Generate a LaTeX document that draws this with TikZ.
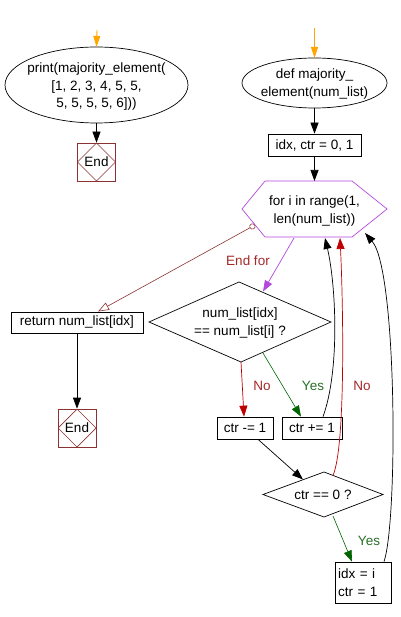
\documentclass[tikz,border=0pt]{standalone}
\usepackage{fontspec}
\setmainfont{Liberation Sans}
\usetikzlibrary{arrows.meta,calc}
\definecolor{purp}{RGB}{178,72,222}
\definecolor{endred}{RGB}{140,50,50}
\definecolor{nored}{RGB}{190,0,0}
\definecolor{labred}{RGB}{165,40,40}
\definecolor{yesgreen}{RGB}{0,100,0}
\definecolor{labgreen}{RGB}{40,110,40}
\definecolor{orng}{RGB}{255,165,0}
\tikzset{
  blk/.style={draw=black, line width=0.7pt, -{Triangle[length=11pt,width=8pt]}},
  start/.style={draw=orng, line width=0.9pt, -{Triangle[length=11pt,width=7pt]}},
  box/.style={draw, rectangle, inner sep=0pt, minimum height=22pt, line width=0.7pt},
  txt/.style={inner sep=0pt, align=center},
  endnode/.style={draw=endred, line width=0.7pt, minimum width=38pt, minimum height=38pt, inner sep=0pt,
    path picture={\draw[endred, line width=0.7pt] (path picture bounding box.north) -- (path picture bounding box.east) -- (path picture bounding box.south) -- (path picture bounding box.west) -- cycle;}},
  lab/.style={inner sep=0pt}
}
\begin{document}
\begin{tikzpicture}[x=1pt,y=-1pt, font=\fontsize{13.5}{17.5}\selectfont]
\useasboundingbox (0,0) rectangle (400,617);
% left column
\coordinate (s1) at (97,30);
\node[txt] (print) at (96.5,87) {print(majority\_element(\\ {[}1, 2, 3, 4, 5, 5,\\ 5, 5, 5, 5, 6{]}))};
\draw[line width=0.7pt] (96.5,85) ellipse [x radius=91.5, y radius=38];
\coordinate (printT) at (96.5,47);
\coordinate (printB) at (96.5,123);
\node[endnode] (end1) at (96.5,162) {End};
\draw[start] (s1) -- (printT);
\draw[blk] (printB) -- (end1.north);

% right column
\coordinate (s2) at (314.5,28);
\node[txt] (def) at (314.5,84) {def majority\_\\ element(num\_list)};
\draw[line width=0.7pt] (314.5,83) ellipse [x radius=72.5, y radius=25];
\coordinate (defT) at (314.5,58);
\coordinate (defB) at (314.5,108);
\draw[start] (s2) -- (defT);
\node[box, minimum width=93pt] (init) at (314.5,145) {idx, ctr = 0, 1};
\draw[blk] (defB) -- (init.north);

% for hexagon
\node[txt] (for) at (314.5,211) {for i in range(1,\\ len(num\_list))};
\draw[purp, line width=0.7pt] (242,209) -- (265,181) -- (352,181) -- (387,209) -- (352,237) -- (265,237) -- cycle;
\coordinate (forT) at (314.5,181);
\draw[blk] (init.south) -- (forT);

% return
\node[box, minimum width=132pt, minimum height=21pt] (ret) at (77,322.5) {return num\_list[idx]};
\node[endnode] (end2) at (77,428) {End};
\draw[blk] (ret.south) -- (end2.north);
\coordinate (exitS) at (255,225);
\draw[endred, line width=0.6pt, {Circle[open,length=6pt,width=6pt]}-{Triangle[open,length=11pt,width=8pt]}] (exitS) -- (98,311.5);
\node[lab, text=labred] (endfor) at (248,261) {End for};

% diamond 1
\node[txt] (d1) at (240,323) {num\_list[idx]\\ == num\_list[i] ?};
\draw[line width=0.7pt] (149,322) -- (239,282) -- (331,322) -- (241,362) -- cycle;
\coordinate (forB1) at (294,238);
\coordinate (d1T) at (263,291.5);
\draw[purp, line width=0.7pt, -{Triangle[length=11pt,width=8pt]}] (forB1) -- (d1T);

% ctr boxes
\node[box, minimum width=56pt] (ctrm) at (245,428) {ctr -= 1};
\node[box, minimum width=60pt] (ctrp) at (312,428) {ctr += 1};
\coordinate (d1B) at (241,362);
\coordinate (d1R) at (263,353);
\draw[nored, line width=0.7pt, -{Triangle[length=11pt,width=8pt]}] (d1B) -- ([xshift=-1pt]ctrm.north);
\node[lab, text=labred] (no1) at (262,386) {No};
\draw[yesgreen, line width=0.6pt, -{Triangle[length=11pt,width=8pt]}] (d1R) -- ([xshift=-11pt]ctrp.north);
\node[lab, text=labgreen] (yes1) at (313,386) {Yes};
\draw[blk] ([xshift=11pt]ctrp.north) .. controls (340,370) and (336,285) .. (325,238);

% diamond 2
\node[txt] (d2) at (323,495) {ctr == 0 ?};
\draw[line width=0.7pt] (263,494.5) -- (324,472) -- (383,494.5) -- (324,517) -- cycle;
\coordinate (d2L) at (303,479.5);
\draw[blk] ([xshift=13pt]ctrm.south) -- (d2L);
\coordinate (d2R) at (333,475.5);
\draw[nored, line width=0.7pt, -{Triangle[length=11pt,width=8pt]}] (d2R) .. controls (346,445) and (343,300) .. (340,238);
\node[lab, text=labred] (no2) at (362,386) {No};

% idx box
\node[box, minimum width=56pt, minimum height=41pt, align=left, text width=50pt] (upd) at (363,582.5) {idx = i\\ ctr = 1};
\coordinate (d2B) at (333,516);
\draw[yesgreen, line width=0.6pt, -{Triangle[length=11pt,width=8pt]}] (d2B) -- ([xshift=-11pt]upd.north);
\node[lab, text=labgreen] (yes2) at (369,541) {Yes};
\draw[blk] ([xshift=21pt]upd.north) .. controls (398,520) and (397,270) .. (365,233);
\end{tikzpicture}
\end{document}
